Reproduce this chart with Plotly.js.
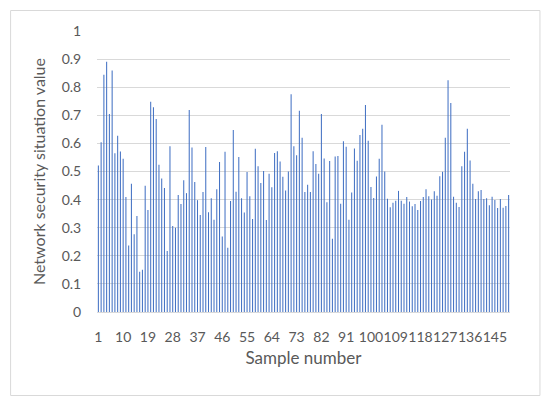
<!DOCTYPE html>
<html>
<head>
<meta charset="utf-8">
<script src="https://cdn.plot.ly/plotly-3.0.1.min.js"></script>
<style>html,body{margin:0;padding:0;background:#fff;}#chart{width:550px;height:405px;}</style>
</head>
<body>
<div id="chart"></div>
<script>
var situationValues = [
0.521,0.604,0.844,0.891,0.705,0.859,0.565,0.627,0.571,0.545,
0.409,0.237,0.456,0.277,0.342,0.143,0.150,0.449,0.363,0.748,
0.729,0.687,0.524,0.475,0.441,0.217,0.590,0.306,0.300,0.416,
0.384,0.469,0.423,0.719,0.585,0.463,0.398,0.345,0.427,0.587,
0.355,0.405,0.328,0.437,0.534,0.269,0.570,0.229,0.395,0.648,
0.428,0.552,0.405,0.354,0.498,0.412,0.331,0.581,0.519,0.459,
0.502,0.327,0.492,0.444,0.566,0.572,0.536,0.481,0.432,0.500,
0.775,0.590,0.558,0.716,0.620,0.427,0.453,0.427,0.572,0.527,
0.492,0.705,0.546,0.391,0.537,0.261,0.553,0.555,0.385,0.608,
0.588,0.328,0.425,0.582,0.538,0.630,0.652,0.737,0.609,0.445,
0.406,0.482,0.545,0.666,0.500,0.403,0.373,0.389,0.396,0.431,
0.396,0.385,0.409,0.393,0.376,0.384,0.363,0.395,0.409,0.437,
0.412,0.400,0.430,0.414,0.483,0.499,0.620,0.825,0.744,0.410,
0.389,0.374,0.519,0.570,0.652,0.539,0.456,0.402,0.430,0.434,
0.402,0.405,0.380,0.410,0.399,0.370,0.402,0.371,0.377,0.416
];
var tickLabels = ["1","10","19","28","37","46","55","64","73","82","91","100","109","118","127","136","145"];
var yTickLabels = ["0","0.1","0.2","0.3","0.4","0.5","0.6","0.7","0.8","0.9","1"];

var sampleNumbers = situationValues.map(function(v, i){ return i + 1; });
var tickVals = tickLabels.map(Number);
var yTickVals = yTickLabels.map(Number);

var fontFam = "Lato, 'Open Sans', sans-serif";
var trace = {
  type: 'bar',
  x: sampleNumbers,
  y: situationValues,
  marker: {color: '#4472C4', line: {width: 0}},
  hoverinfo: 'x+y'
};
var layout = {
  width: 550, height: 405,
  margin: {l: 97, r: 39.5, t: 31, b: 93},
  paper_bgcolor: '#ffffff', plot_bgcolor: '#ffffff',
  bargap: 0.62,
  showlegend: false,
  font: {family: fontFam, color: '#595959', size: 14},
  xaxis: {
    range: [0.5, 150.5],
    tickmode: 'array', tickvals: tickVals, ticktext: tickLabels,
    tickangle: 0,
    ticks: 'outside', ticklen: 12, tickcolor: 'rgba(0,0,0,0)',
    showgrid: false, zeroline: false,
    showline: true, linecolor: '#d9d9d9', linewidth: 1,
    automargin: true,
    tickfont: {family: fontFam, size: 14, color: '#595959'},
    title: {text: 'Sample number', font: {family: fontFam, size: 17, color: '#595959'}, standoff: 8}
  },
  yaxis: {
    range: [0, 1],
    tickmode: 'array', tickvals: yTickVals, ticktext: yTickLabels,
    ticks: 'outside', ticklen: 12, tickcolor: 'rgba(0,0,0,0)',
    showgrid: true, gridcolor: '#d9d9d9', gridwidth: 1,
    zeroline: false, showline: false,
    automargin: true,
    tickfont: {family: fontFam, size: 14, color: '#595959'},
    title: {text: 'Network security situation value', font: {family: fontFam, size: 16, color: '#595959'}, standoff: 12}
  },
  shapes: [{
    type: 'rect', xref: 'paper', yref: 'paper',
    x0: (10.5-97)/413.5, x1: (540.5-97)/413.5,
    y0: (312-395.5)/281, y1: (312-10.5)/281,
    line: {color: '#d9d9d9', width: 1}, fillcolor: 'rgba(0,0,0,0)', layer: 'below'
  }]
};
Plotly.newPlot('chart', [trace], layout, {displayModeBar: false, staticPlot: true});
</script>
</body>
</html>
